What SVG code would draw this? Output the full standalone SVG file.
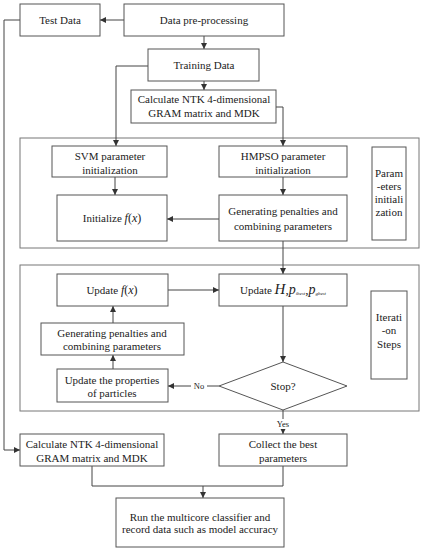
<svg xmlns="http://www.w3.org/2000/svg" width="423" height="550" viewBox="0 0 423 550">
<style>
.b{fill:#fff;stroke:#555;stroke-width:1}
.g{fill:none;stroke:#777;stroke-width:1}
.c{fill:none;stroke:#444;stroke-width:1}
text{font-family:'Liberation Serif','Times New Roman','DejaVu Serif',serif;font-size:11px;fill:#222;text-anchor:middle}
.s{font-size:8.5px}
.i{font-style:italic}
</style>
<defs>
<marker id="a" viewBox="0 0 8 8" refX="8" refY="4" markerWidth="6" markerHeight="6" orient="auto" markerUnits="userSpaceOnUse">
<path d="M0,0 L8,4 L0,8 z" fill="#333"/>
</marker>
</defs>
<rect width="423" height="550" fill="#fff"/>
<g id="group-init"><rect class="g" x="20" y="138" width="399" height="110"/></g>
<g id="group-iter"><rect class="g" x="20" y="265" width="399" height="146"/></g>
<g id="connectors">
<path class="c" d="M124,20 H100" marker-end="url(#a)"/>
<path class="c" d="M20,20 H4 V450 H20" marker-end="url(#a)"/>
<path class="c" d="M204,36 V49" marker-end="url(#a)"/>
<path class="c" d="M204,81 V90" marker-end="url(#a)"/>
<path class="c" d="M148,66 H116 V146" marker-end="url(#a)"/>
<path class="c" d="M276,107 H283 V146" marker-end="url(#a)"/>
<path class="c" d="M115,177 V195" marker-end="url(#a)"/>
<path class="c" d="M283,177 V195" marker-end="url(#a)"/>
<path class="c" d="M219,219 H167" marker-end="url(#a)"/>
<path class="c" d="M283,241 V274" marker-end="url(#a)"/>
<path class="c" d="M168,290 H219" marker-end="url(#a)"/>
<path class="c" d="M283,306 V362" marker-end="url(#a)"/>
<path class="c" d="M113,323 V306" marker-end="url(#a)"/>
<path class="c" d="M113,369 V355" marker-end="url(#a)"/>
<path class="c" d="M219,386 H168" marker-end="url(#a)"/>
<path class="c" d="M283,410 V434" marker-end="url(#a)"/>
<path class="c" d="M92,466 V486 H283 V466"/>
<path class="c" d="M203,486 V498" marker-end="url(#a)"/>
<rect x="191" y="381" width="16" height="10" fill="#fff"/>
<text class="s" x="199" y="389">No</text>
<rect x="275" y="419" width="16" height="10" fill="#fff"/>
<text class="s" x="283" y="427">Yes</text>
</g>
<g id="test-data"><rect class="b" x="20" y="4" width="80" height="32"/><text x="60" y="24">Test Data</text></g>
<g id="pre-processing"><rect class="b" x="124" y="4" width="160" height="32"/><text x="204" y="24">Data pre-processing</text></g>
<g id="training-data"><rect class="b" x="148" y="49" width="111" height="32"/><text x="204" y="69">Training Data</text></g>
<g id="calc-ntk-1"><rect class="b" x="131" y="90" width="145" height="33"/><text x="204" y="103">Calculate NTK 4-dimensional</text><text x="204" y="117">GRAM matrix and MDK</text></g>
<g id="svm-init"><rect class="b" x="52" y="146" width="115" height="31"/><text x="110" y="160">SVM parameter</text><text x="110" y="174">initialization</text></g>
<g id="hmpso-init"><rect class="b" x="219" y="146" width="128" height="31"/><text x="283" y="160">HMPSO parameter</text><text x="283" y="174">initialization</text></g>
<g id="init-f"><rect class="b" x="57" y="195" width="110" height="46"/><text x="112" y="222">Initialize <tspan class="i" font-size="12">f</tspan><tspan font-size="12">(</tspan><tspan class="i" font-size="12">x</tspan><tspan font-size="12">)</tspan></text></g>
<g id="gen-pen-1"><rect class="b" x="219" y="195" width="128" height="46"/><text x="283" y="215">Generating penalties and</text><text x="283" y="230">combining parameters</text></g>
<g id="param-init-label"><rect class="b" x="372" y="147" width="34" height="93"/><text x="389" y="177">Param</text><text x="389" y="190">-eters</text><text x="389" y="203">initiali</text><text x="389" y="216">zation</text></g>
<g id="update-f"><rect class="b" x="57" y="274" width="111" height="32"/><text x="112" y="294">Update <tspan class="i" font-size="12">f</tspan><tspan font-size="12">(</tspan><tspan class="i" font-size="12">x</tspan><tspan font-size="12">)</tspan></text></g>
<g id="update-h"><rect class="b" x="219" y="274" width="128" height="32"/><text x="283" y="294">Update <tspan class="i" font-size="15">H</tspan><tspan font-size="13">,</tspan><tspan class="i" font-size="14">p</tspan><tspan class="i" font-size="5" dy="1">ibest</tspan><tspan font-size="13" dy="-1">,</tspan><tspan class="i" font-size="14">p</tspan><tspan class="i" font-size="5" dy="1">gbest</tspan></text></g>
<g id="gen-pen-2"><rect class="b" x="41" y="323" width="143" height="32"/><text x="112" y="337">Generating penalties and</text><text x="112" y="350">combining parameters</text></g>
<g id="update-props"><rect class="b" x="57" y="369" width="111" height="33"/><text x="112" y="384">Update the properties</text><text x="112" y="397">of particles</text></g>
<g id="stop"><polygon class="b" points="283,362 347,386 283,410 219,386"/><text x="283" y="390">Stop?</text></g>
<g id="iter-label"><rect class="b" x="371" y="291" width="36" height="88"/><text x="389" y="321">Iterati</text><text x="389" y="334">-on</text><text x="389" y="348">Steps</text></g>
<g id="calc-ntk-2"><rect class="b" x="20" y="434" width="144" height="32"/><text x="92" y="448">Calculate NTK 4-dimensional</text><text x="92" y="462">GRAM matrix and MDK</text></g>
<g id="collect"><rect class="b" x="219" y="434" width="128" height="32"/><text x="283" y="448">Collect the best</text><text x="283" y="462">parameters</text></g>
<g id="run"><rect class="b" x="116" y="498" width="168" height="49"/><text x="200" y="521">Run the multicore classifier and</text><text x="200" y="533">record data such as model accuracy</text></g>
</svg>
